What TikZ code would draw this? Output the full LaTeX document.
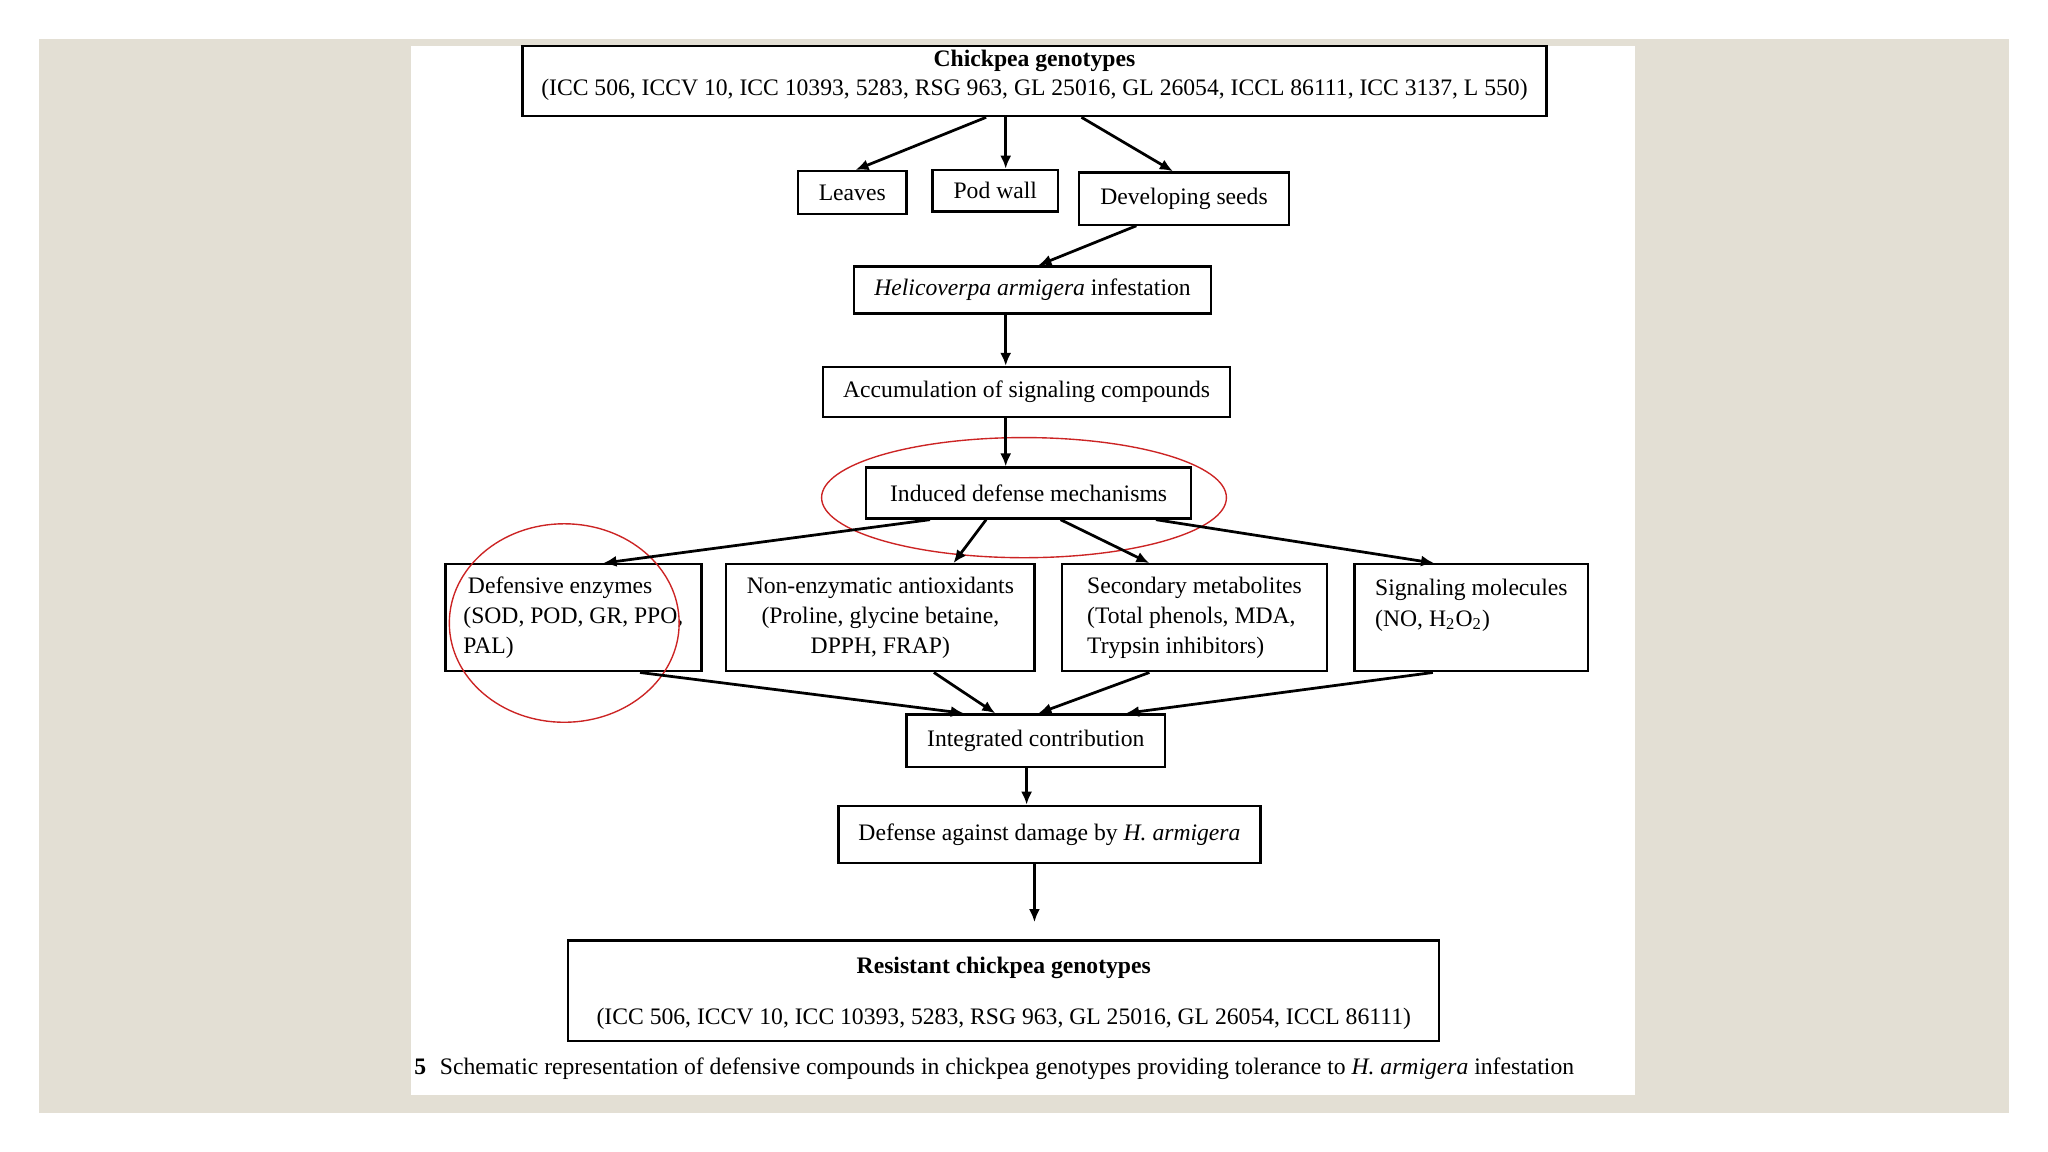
\documentclass[tikz,border=0pt]{standalone}
\usepackage{fontspec}
\setmainfont{Liberation Serif}
\usepackage{tikz}
\usetikzlibrary{arrows,arrows.meta,calc,positioning}
\definecolor{slidebg}{RGB}{227,223,212}
\definecolor{markred}{RGB}{204,36,36}
\tikzstyle{box node}=[draw, line width=1pt, inner sep=2pt, font=\fontsize{10.3}{12.4}\selectfont]
\tikzstyle{list node}=[box node, align=left, minimum height=1.64cm, font=\fontsize{10.3}{13.2}\selectfont]

\begin{document}
\begin{tikzpicture}[x=0.02cm, y=-0.02cm, >={Latex[length=2mm,width=1.7mm]}]
%
  \fill[white] (0,0) rectangle (1568,882);
  \fill[slidebg] (30,30) rectangle (1538,852);
  \fill[white] (315,35) rectangle (1252,838);
%
  \node[box node, align=center, text depth=0.25cm, minimum width=15.68cm, minimum height=1.04cm] (genotypes) at (792,62)
    {\textbf{Chickpea genotypes}\\(ICC 506, ICCV 10, ICC 10393, 5283, RSG 963, GL 25016, GL 26054, ICCL 86111, ICC 3137, L 550)};
  \node[box node, minimum width=1.66cm, minimum height=0.66cm] (leaves) at (652.5,147.5) {Leaves};
  \node[box node, minimum width=1.92cm, minimum height=0.64cm] (podwall) at (762,146) {Pod wall};
  \node[box node, minimum width=3.22cm, minimum height=0.8cm] (seeds) at (906.5,152) {Developing seeds};
  \node[box node, minimum width=5.46cm, minimum height=0.72cm] (infest) at (790.5,222) {\textit{Helicoverpa armigera} infestation};
  \node[box node, minimum width=6.24cm, minimum height=0.76cm] (accum) at (786,300) {Accumulation of signaling compounds};
  \node[box node, minimum width=4.98cm, minimum height=0.78cm] (induced) at (787.5,377.5) {Induced defense mechanisms};
%
  \node[list node, minimum width=3.92cm] (enzymes) at (439,473) {\hspace{2pt}Defensive enzymes\\(SOD, POD, GR, PPO,\\PAL)};
  \node[list node, align=center, minimum width=4.72cm] (antiox) at (674,473) {Non-enzymatic antioxidants\\(Proline, glycine betaine,\\DPPH, FRAP)};
  \node[list node, minimum width=4.06cm] (metab) at (914.5,473) {Secondary metabolites\\(Total phenols, MDA,\\Trypsin inhibitors)};
  \node[list node, minimum width=3.58cm] (signal) at (1126.5,473) {Signaling molecules\\(NO, H\textsubscript{2}O\textsubscript{2})\\\phantom{X}};
%
  \node[box node, minimum width=3.96cm, minimum height=0.8cm] (integ) at (793,567) {Integrated contribution};
  \node[box node, minimum width=6.46cm, minimum height=0.88cm] (defense) at (803.5,639) {Defense against damage by \textit{H. armigera}};
  \coordinate (resEnd) at (792,706);
  \node[box node, align=center, text depth=0pt, minimum width=13.34cm, minimum height=1.54cm] (resistant) at (768.5,758.5)
    {\textbf{Resistant chickpea genotypes}\\[10pt](ICC 506, ICCV 10, ICC 10393, 5283, RSG 963, GL 25016, GL 26054, ICCL 86111)};
  \node[anchor=west, font=\fontsize{10.3}{12.4}\selectfont] (caption) at (311,818)
    {\textbf{5}\hspace{6pt}Schematic representation of defensive compounds in chickpea genotypes providing tolerance to \textit{H. armigera} infestation};
%
  \draw[markred, line width=0.6pt] (784,381) ellipse [x radius=3.1cm, y radius=0.92cm];
  \draw[markred, line width=0.6pt] (432,477) ellipse [x radius=1.76cm, y radius=1.52cm];
%
  \path[->, line width=1.2pt]
    ($(genotypes.south)+(-37,0)$) edge ($(leaves.north)+(2.5,0)$)
    ($(genotypes.south)+(-22,0)$) edge ($(podwall.north)+(8,0)$)
    ($(genotypes.south)+(36,0)$) edge ($(seeds.north)+(-8.5,0)$)
    ($(seeds.south)+(-36.5,0)$) edge ($(infest.north)+(4.5,0)$)
    ($(infest.south)+(-20.5,0)$) edge ($(accum.north)+(-16,0)$)
    ($(accum.south)+(-16,0)$) edge ($(induced.north)+(-17.5,0)$)
    ($(induced.south)+(-75.5,0)$) edge ($(enzymes.north)+(23,0)$)
    ($(induced.south)+(-32.5,0)$) edge ($(antiox.north)+(56,0)$)
    ($(induced.south)+(24.5,0)$) edge ($(metab.north)+(-34.5,0)$)
    ($(induced.south)+(97.5,0)$) edge ($(signal.north)+(-28.5,0)$)
    ($(enzymes.south)+(51,0)$) edge ($(integ.north)+(-55,0)$)
    ($(antiox.south)+(41,0)$) edge ($(integ.north)+(-31,0)$)
    ($(metab.south)+(-34.5,0)$) edge ($(integ.north)+(2,0)$)
    ($(signal.south)+(-29.5,0)$) edge ($(integ.north)+(69,0)$)
    ($(integ.south)+(-7,0)$) edge ($(defense.north)+(-17.5,0)$)
    ($(defense.south)+(-11.5,0)$) edge (resEnd);
%
\end{tikzpicture}
\end{document}
